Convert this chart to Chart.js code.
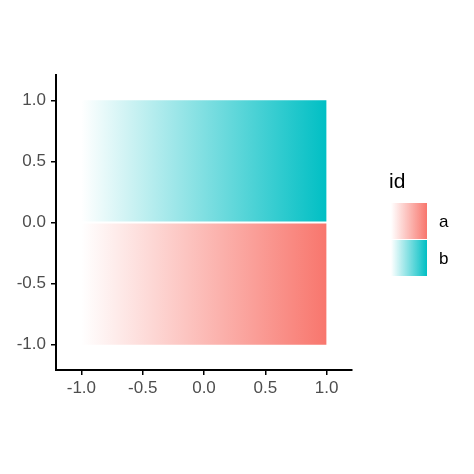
<!DOCTYPE html>
<html><head><meta charset="utf-8">
<script src="https://cdn.jsdelivr.net/npm/chart.js@4/dist/chart.umd.min.js"></script>
<style>
html,body{margin:0;padding:0;background:#fff;}
#wrap{position:relative;width:474px;height:474px;}
canvas{position:absolute;left:0;top:0;}
.lg{position:absolute;font-family:"Liberation Sans",Arial,sans-serif;color:#000;line-height:1;}
.key{position:absolute;width:36px;height:36px;}
</style></head>
<body>
<div id="wrap"><canvas id="c" width="474" height="474"></canvas><div id="legend"></div></div>
<script>
const ids = ['a', 'b'];
const colours = ['#F8766D', '#00BFC4'];
const xStart = [-1, -1];
const xEnd = [1, 1];
const yLow = [-1, 0];
const yHigh = [0, 1];
const tickValues = [-1, -0.5, 0, 0.5, 1];
const legendTitle = 'id';

function gradFor(i){
  return (ctx) => {
    const chart = ctx.chart;
    if (!chart.chartArea) return colours[i];
    const sx = chart.scales.x;
    const x0 = sx.getPixelForValue(xStart[i]), x1 = sx.getPixelForValue(xEnd[i]);
    const g = chart.ctx.createLinearGradient(x0, 0, x1, 0);
    g.addColorStop(0, '#ffffff');
    g.addColorStop(1, colours[i]);
    return g;
  };
}

const datasets = ids.map((id, i) => {
  const yv = yLow[i] < 0 ? yLow[i] : yHigh[i];
  return {
    label: id, order: 1,
    data: [{x: xStart[i], y: yv}, {x: xEnd[i], y: yv}],
    showLine: true, fill: 'origin', pointRadius: 0, borderWidth: 0,
    borderColor: 'rgba(0,0,0,0)', backgroundColor: gradFor(i)
  };
});
datasets.push({
  label: 'sep', order: -1, data: [{x: -1.01, y: 0}, {x: 1.01, y: 0}],
  showLine: true, fill: false, pointRadius: 0, borderWidth: 2, borderColor: '#ffffff'
});

const tickFont = {family: '"Liberation Sans", Arial, sans-serif', size: 17};
function axis(isX){
  return {
    type: 'linear', min: -1.207, max: 1.207,
    afterBuildTicks: (s) => { s.ticks = tickValues.map(v => ({value: v})); },
    afterFit: (s) => { if (isX) s.height = 104; else s.width = 56; },
    ticks: {color: '#4D4D4D', font: tickFont, padding: isX ? 3 : 5, autoSkip: false, maxRotation: 0,
      callback: (v) => Number(v).toFixed(1)},
    grid: {display: true, drawOnChartArea: false, drawTicks: true, tickLength: 5, color: '#000', lineWidth: 1.5},
    border: {display: true, color: '#000', width: 2}
  };
}

new Chart(document.getElementById('c'), {
  type: 'scatter',
  data: {datasets},
  options: {
    responsive: false, animation: false, devicePixelRatio: 1,
    layout: {padding: {left: 0, top: 75, right: 122, bottom: 0}},
    plugins: {legend: {display: false}, tooltip: {enabled: false}},
    scales: {x: axis(true), y: axis(false)}
  }
});

const lg = document.getElementById('legend');
const t = document.createElement('div');
t.className = 'lg'; t.textContent = legendTitle;
t.style.cssText = 'left:389px;top:170px;font-size:21px;';
lg.appendChild(t);
ids.forEach((id, i) => {
  const k = document.createElement('div');
  k.className = 'key';
  k.style.left = '391px'; k.style.top = (203 + i * 37) + 'px';
  k.style.background = 'linear-gradient(to right, #ffffff, ' + colours[i] + ')';
  lg.appendChild(k);
  const l = document.createElement('div');
  l.className = 'lg'; l.textContent = id;
  l.style.cssText = 'left:439px;top:' + (213 + i * 37) + 'px;font-size:17px;';
  lg.appendChild(l);
});
</script>
</body></html>
